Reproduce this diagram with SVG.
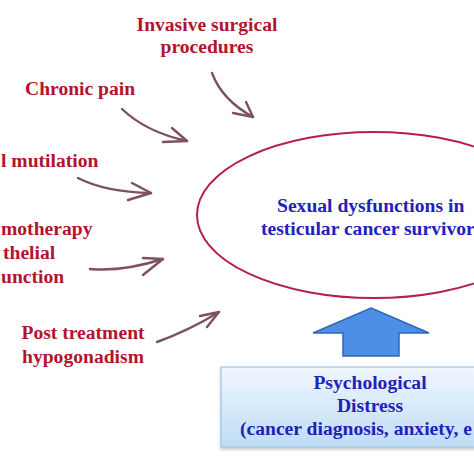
<svg xmlns="http://www.w3.org/2000/svg" width="474" height="474" viewBox="0 0 474 474">
<defs>
<linearGradient id="boxg" x1="0" y1="0" x2="0" y2="1">
<stop offset="0" stop-color="#f0f7fe"/>
<stop offset="1" stop-color="#bfdcf5"/>
</linearGradient>
<filter id="sh" x="-10%" y="-10%" width="120%" height="130%">
<feDropShadow dx="0" dy="2" stdDeviation="1.5" flood-color="#7a8a99" flood-opacity="0.45"/>
</filter>
</defs>
<style>
.red{font-family:"Liberation Serif","Times New Roman",serif;font-weight:bold;font-size:19.6px;fill:#b0152d}
.blue{font-family:"Liberation Serif","Times New Roman",serif;font-weight:bold;font-size:19.6px;fill:#2222b8}
.arr{fill:none;stroke:#7e5060;stroke-width:2.4;stroke-linecap:round;stroke-linejoin:round}
</style>
<rect width="474" height="474" fill="#ffffff"/>
<g id="connectors">
<path class="arr" d="M212,73 Q222,100 253,117"/>
<path class="arr" d="M233,113 L253,117 L246,102"/>
<path class="arr" d="M122,109 Q146,132 187,141"/>
<path class="arr" d="M163,142 L187,141 L172,128"/>
<path class="arr" d="M78,178 Q105,192 151,193"/>
<path class="arr" d="M128,200 L151,193 L132,183"/>
<path class="arr" d="M90,269 Q122,272 163,259"/>
<path class="arr" d="M143,275 L163,259 L143,258"/>
<path class="arr" d="M157,342 Q190,330 219,312"/>
<path class="arr" d="M200,316 L219,312 L207,327"/>
<path id="bigarrow" d="M371,308 L429,333 L399,333 L399,356 L343,356 L343,333 L313,333 Z" fill="#4d8fe6" stroke="#2e68b8" stroke-width="1.5" stroke-linejoin="miter"/>
</g>
<g id="invasive">
<text class="red" x="207" y="31" text-anchor="middle">Invasive surgical</text>
<text class="red" x="207" y="53" text-anchor="middle">procedures</text>
</g>
<g id="chronic">
<text class="red" x="25" y="95">Chronic pain</text>
</g>
<g id="mutilation">
<text class="red" x="1" y="167">l mutilation</text>
</g>
<g id="chemo">
<text class="red" x="1" y="235">motherapy</text>
<text class="red" x="3" y="259">thelial</text>
<text class="red" x="1" y="283">unction</text>
</g>
<g id="hypogonadism">
<text class="red" x="83" y="339" text-anchor="middle">Post treatment</text>
<text class="red" x="83" y="363" text-anchor="middle">hypogonadism</text>
</g>
<g id="center">
<ellipse cx="374" cy="215" rx="177" ry="83" fill="none" stroke="#b3204a" stroke-width="2"/>
<text class="blue" x="277" y="212">Sexual dysfunctions  in</text>
<text class="blue" x="261" y="235">testicular cancer survivor</text>
</g>
<g id="distress">
<rect x="221" y="367" width="270" height="80" fill="url(#boxg)" stroke="#a4c6e6" stroke-width="1.2" filter="url(#sh)"/>
<text class="blue" x="370" y="389" text-anchor="middle">Psychological</text>
<text class="blue" x="370" y="412" text-anchor="middle">Distress</text>
<text class="blue" x="240" y="435">(cancer diagnosis, anxiety, e</text>
</g>
</svg>
